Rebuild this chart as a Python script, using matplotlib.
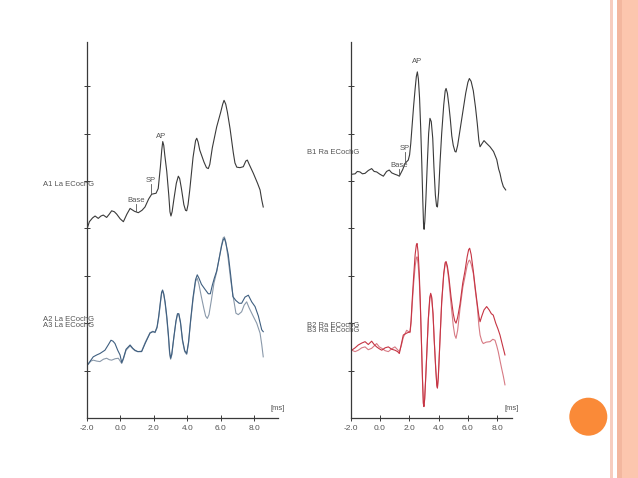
import matplotlib
matplotlib.use("Agg")
import matplotlib.pyplot as plt
from matplotlib.patches import Rectangle, Ellipse

plt.rcParams['font.family'] = ['Liberation Sans', 'DejaVu Sans']

# ---------------- data (time in ms, amplitude in arbitrary units) ----------------
a1_t = [-1.95, -1.84, -1.65, -1.50, -1.31, -1.15, -1.01, -0.81, -0.65, -0.51, -0.35, -0.21, 0.0, 0.19, 0.40,
        0.59, 0.85, 1.08, 1.30, 1.48, 1.70, 1.88, 2.14, 2.27, 2.40, 2.48, 2.54, 2.60, 2.66, 2.78, 2.90,
        2.97, 3.03, 3.10, 3.20, 3.35, 3.47, 3.55, 3.65, 3.80, 3.90, 3.97, 4.05, 4.15, 4.35, 4.50, 4.57,
        4.65, 4.75, 5.00, 5.15, 5.26, 5.35, 5.50, 5.76, 6.00, 6.12, 6.20, 6.30, 6.40, 6.56, 6.75, 6.85,
        6.96, 7.15, 7.35, 7.50, 7.59, 7.70, 7.95, 8.20, 8.35, 8.45, 8.54]
a1_v = [4.02, 4.14, 4.22, 4.26, 4.21, 4.26, 4.28, 4.23, 4.30, 4.37, 4.35, 4.30, 4.20, 4.14, 4.30,
        4.42, 4.36, 4.33, 4.38, 4.45, 4.62, 4.72, 4.74, 4.84, 5.30, 5.65, 5.83, 5.75, 5.55, 5.20, 4.70,
        4.35, 4.26, 4.35, 4.60, 4.95, 5.10, 5.05, 4.85, 4.50, 4.38, 4.37, 4.50, 4.80, 5.50, 5.85, 5.90,
        5.82, 5.65, 5.40, 5.28, 5.26, 5.35, 5.70, 6.14, 6.45, 6.62, 6.70, 6.62, 6.45, 6.10, 5.60, 5.38,
        5.29, 5.28, 5.30, 5.42, 5.44, 5.35, 5.16, 4.95, 4.81, 4.60, 4.45]

a2_t = [-1.95, -1.75, -1.61, -1.40, -1.21, -0.91, -0.70, -0.55, -0.43, -0.31, -0.15, -0.01, 0.09, 0.19,
        0.35, 0.59, 0.75, 0.88, 1.05, 1.28, 1.50, 1.78, 1.95, 2.08, 2.20, 2.30, 2.40, 2.47, 2.53, 2.60,
        2.68, 2.78, 2.88, 2.95, 3.01, 3.08, 3.20, 3.33, 3.42, 3.50, 3.60, 3.72, 3.85, 3.97, 4.08, 4.20,
        4.35, 4.50, 4.60, 4.70, 4.85, 5.05, 5.26, 5.38, 5.50, 5.62, 5.76, 5.90, 6.05, 6.15, 6.22, 6.30,
        6.45, 6.60, 6.73, 6.90, 7.10, 7.25, 7.45, 7.65, 7.85, 8.05, 8.25, 8.45, 8.54]
a2_v = [1.12, 1.22, 1.29, 1.33, 1.36, 1.43, 1.55, 1.64, 1.62, 1.57, 1.43, 1.33, 1.17, 1.26,
        1.45, 1.54, 1.47, 1.43, 1.40, 1.40, 1.58, 1.79, 1.82, 1.81, 1.92, 2.15, 2.45, 2.65, 2.70, 2.62,
        2.45, 2.15, 1.75, 1.40, 1.26, 1.35, 1.70, 2.05, 2.20, 2.20, 2.02, 1.65, 1.42, 1.36, 1.60, 2.05,
        2.55, 2.92, 3.02, 2.95, 2.82, 2.72, 2.62, 2.62, 2.80, 2.95, 3.10, 3.35, 3.62, 3.76, 3.79, 3.70,
        3.45, 3.00, 2.56, 2.48, 2.42, 2.42, 2.55, 2.59, 2.45, 2.35, 2.15, 1.86, 1.82]

a3_t = [-1.95, -1.75, -1.61, -1.40, -1.21, -1.00, -0.81, -0.65, -0.51, -0.30, -0.11, 0.00, 0.09, 0.19,
        0.35, 0.59, 0.75, 0.88, 1.05, 1.28, 1.50, 1.78, 1.95, 2.08, 2.20, 2.30, 2.40, 2.47, 2.53, 2.60,
        2.68, 2.78, 2.88, 2.95, 3.01, 3.08, 3.20, 3.33, 3.42, 3.50, 3.60, 3.72, 3.85, 3.97, 4.08, 4.20,
        4.35, 4.50, 4.60, 4.70, 4.85, 5.00, 5.10, 5.20, 5.30, 5.45, 5.60, 5.76, 5.90, 6.05, 6.15, 6.22,
        6.30, 6.45, 6.60, 6.75, 6.91, 7.05, 7.25, 7.40, 7.55, 7.70, 7.95, 8.15, 8.35, 8.45, 8.54]
a3_v = [1.12, 1.20, 1.22, 1.20, 1.19, 1.24, 1.26, 1.23, 1.22, 1.25, 1.26, 1.20, 1.15, 1.24,
        1.43, 1.52, 1.46, 1.42, 1.40, 1.41, 1.60, 1.80, 1.83, 1.80, 1.90, 2.12, 2.42, 2.62, 2.68, 2.60,
        2.42, 2.10, 1.70, 1.35, 1.24, 1.33, 1.68, 2.03, 2.18, 2.18, 2.00, 1.62, 1.40, 1.34, 1.58, 2.02,
        2.50, 2.88, 2.95, 2.82, 2.55, 2.30, 2.15, 2.10, 2.18, 2.50, 2.85, 3.08, 3.35, 3.65, 3.80, 3.82,
        3.72, 3.35, 2.90, 2.55, 2.21, 2.18, 2.24, 2.38, 2.45, 2.32, 2.14, 2.00, 1.79, 1.55, 1.29]

b1_t = [-1.93, -1.70, -1.55, -1.37, -1.20, -1.02, -0.80, -0.57, -0.40, -0.23, 0.00, 0.23, 0.45, 0.63,
        0.80, 1.02, 1.20, 1.32, 1.45, 1.55, 1.71, 1.93, 2.02, 2.10, 2.20, 2.30, 2.40, 2.48, 2.55, 2.62,
        2.70, 2.78, 2.85, 2.92, 2.97, 3.01, 3.06, 3.13, 3.22, 3.32, 3.41, 3.50, 3.60, 3.68, 3.78, 3.86,
        3.92, 4.00, 4.10, 4.21, 4.35, 4.45, 4.51, 4.60, 4.70, 4.80, 4.90, 5.00, 5.12, 5.19, 5.30, 5.45,
        5.65, 5.85, 6.00, 6.10, 6.22, 6.37, 6.52, 6.64, 6.75, 6.83, 6.95, 7.10, 7.25, 7.51, 7.75, 7.97,
        8.10, 8.19, 8.30, 8.42, 8.58]
b1_v = [5.14, 5.15, 5.20, 5.19, 5.15, 5.16, 5.22, 5.26, 5.20, 5.19, 5.14, 5.10, 5.20, 5.23,
        5.17, 5.14, 5.12, 5.10, 5.18, 5.24, 5.37, 5.44, 5.55, 5.79, 6.20, 6.60, 6.95, 7.20, 7.30, 7.15,
        6.75, 6.10, 5.40, 4.60, 4.10, 3.98, 4.15, 4.60, 5.30, 6.00, 6.32, 6.25, 5.90, 5.30, 4.70, 4.47,
        4.45, 4.75, 5.40, 6.00, 6.60, 6.90, 6.95, 6.85, 6.60, 6.30, 5.95, 5.75, 5.62, 5.61, 5.75, 6.05,
        6.45, 6.85, 7.08, 7.16, 7.10, 6.90, 6.55, 6.21, 5.85, 5.72, 5.78, 5.85, 5.80, 5.72, 5.62, 5.45,
        5.25, 5.16, 5.00, 4.88, 4.81]

b2_t = [-1.93, -1.70, -1.48, -1.25, -1.02, -0.80, -0.57, -0.40, -0.23, -0.05, 0.12, 0.35, 0.57, 0.80,
        1.02, 1.20, 1.32, 1.45, 1.59, 1.82, 2.05, 2.12, 2.20, 2.30, 2.40, 2.48, 2.53, 2.60, 2.68, 2.75,
        2.82, 2.90, 2.96, 3.00, 3.05, 3.12, 3.20, 3.30, 3.40, 3.46, 3.53, 3.62, 3.70, 3.80, 3.88, 3.92,
        3.98, 4.08, 4.21, 4.35, 4.45, 4.51, 4.60, 4.70, 4.85, 5.00, 5.10, 5.19, 5.30, 5.46, 5.65, 5.80,
        5.95, 6.05, 6.12, 6.22, 6.37, 6.50, 6.64, 6.75, 6.83, 6.95, 7.10, 7.28, 7.45, 7.60, 7.73, 7.90,
        8.05, 8.19, 8.35, 8.53]
b2_v = [1.43, 1.48, 1.54, 1.58, 1.61, 1.55, 1.62, 1.55, 1.50, 1.46, 1.43, 1.48, 1.50, 1.45,
        1.43, 1.40, 1.36, 1.55, 1.75, 1.79, 1.82, 2.05, 2.50, 3.00, 3.45, 3.65, 3.68, 3.50, 3.05, 2.45,
        1.70, 0.80, 0.30, 0.24, 0.40, 0.85, 1.40, 2.10, 2.55, 2.63, 2.55, 2.20, 1.65, 1.05, 0.68, 0.63,
        0.85, 1.55, 2.45, 3.05, 3.28, 3.30, 3.20, 2.98, 2.55, 2.20, 2.05, 2.00, 2.12, 2.40, 2.85, 3.10,
        3.40, 3.55, 3.58, 3.45, 3.10, 2.75, 2.40, 2.15, 2.03, 2.15, 2.28, 2.35, 2.28, 2.20, 2.17, 2.00,
        1.88, 1.75, 1.55, 1.33]

b3_t = [-1.93, -1.70, -1.48, -1.25, -1.02, -0.80, -0.57, -0.40, -0.23, -0.05, 0.12, 0.35, 0.57, 0.80,
        1.02, 1.20, 1.32, 1.45, 1.59, 1.82, 2.05, 2.12, 2.20, 2.30, 2.40, 2.48, 2.53, 2.60, 2.68, 2.75,
        2.82, 2.90, 2.96, 3.00, 3.05, 3.12, 3.20, 3.30, 3.40, 3.46, 3.53, 3.62, 3.70, 3.80, 3.88, 3.92,
        3.98, 4.08, 4.21, 4.35, 4.45, 4.51, 4.60, 4.70, 4.85, 5.00, 5.10, 5.19, 5.30, 5.46, 5.65, 5.80,
        5.95, 6.05, 6.12, 6.22, 6.37, 6.50, 6.64, 6.75, 6.83, 6.95, 7.05, 7.25, 7.51, 7.70, 7.85, 7.97,
        8.07, 8.20, 8.30, 8.42, 8.53]
b3_v = [1.43, 1.40, 1.43, 1.48, 1.50, 1.44, 1.47, 1.52, 1.57, 1.50, 1.47, 1.42, 1.40, 1.46,
        1.50, 1.44, 1.40, 1.52, 1.70, 1.85, 1.80, 2.00, 2.40, 2.85, 3.20, 3.38, 3.40, 3.25, 2.90, 2.40,
        1.70, 0.85, 0.32, 0.26, 0.42, 0.85, 1.40, 2.08, 2.50, 2.60, 2.52, 2.18, 1.65, 1.08, 0.70, 0.65,
        0.88, 1.55, 2.42, 3.02, 3.25, 3.28, 3.15, 2.90, 2.40, 1.95, 1.75, 1.68, 1.85, 2.30, 2.75, 2.98,
        3.22, 3.31, 3.33, 3.25, 3.05, 2.70, 2.35, 1.95, 1.75, 1.62, 1.57, 1.60, 1.61, 1.66, 1.64, 1.52,
        1.40, 1.20, 1.05, 0.88, 0.70]

x_ticks = [-2, 0, 2, 4, 6, 8]
x_labels = ["-2.0", "0.0", "2.0", "4.0", "6.0", "8.0"]
y_ticks = [1, 2, 3, 4, 5, 6, 7]

# ---------------- figure ----------------
W, H = 638, 478
fig = plt.figure(figsize=(W / 100, H / 100), dpi=100)
fig.patch.set_facecolor('white')

def px_axes(left, bottom_px, width, height):
    return fig.add_axes([left / W, (H - bottom_px) / H, width / W, height / H])

axL = px_axes(86.7, 418, 11.4 * 16.75, 376)
axR = px_axes(350.7, 418, 11.0 * 14.65, 376)
axL.set_xlim(-2, 9.4)
axR.set_xlim(-2, 9.0)

txt_col = '#555555'
for ax in (axL, axR):
    ax.set_ylim(0, 7.93)
    ax.set_facecolor('none')
    for s in ('top', 'right'):
        ax.spines[s].set_visible(False)
    for s in ('left', 'bottom'):
        ax.spines[s].set_color('#3a3a3a')
        ax.spines[s].set_linewidth(0.9)
    ax.set_xticks(x_ticks)
    ax.set_xticklabels(x_labels)
    ax.set_yticks(y_ticks)
    ax.set_yticklabels([])
    ax.tick_params(axis='both', direction='inout', length=4, width=0.7, colors='#3a3a3a',
                   labelsize=6, labelcolor=txt_col, pad=3)
    ax.text(1.0, 0.17 / 7.93 + 0.005, '[ms]', transform=ax.transAxes, ha='center', va='center',
            fontsize=5.5, color=txt_col)

lw = 0.8
axL.plot(a1_t, a1_v, color='#3a3a3a', lw=lw)
axL.plot(a3_t, a3_v, color='#8a99aa', lw=lw)
axL.plot(a2_t, a2_v, color='#3f5f80', lw=lw)

axR.plot(b1_t, b1_v, color='#3a3a3a', lw=lw)
axR.plot(b3_t, b3_v, color='#d77a84', lw=lw)
axR.plot(b2_t, b2_v, color='#c63443', lw=lw)

fs = 5.5
# trace names
axL.text(-4.61, 4.93, 'A1 La ECochG', fontsize=fs, color=txt_col, ha='left', va='center', clip_on=False)
axL.text(-4.61, 2.08, 'A2 La ECochG', fontsize=fs, color=txt_col, ha='left', va='center', clip_on=False)
axL.text(-4.61, 1.95, 'A3 La ECochG', fontsize=fs, color=txt_col, ha='left', va='center', clip_on=False)
axR.text(-5.0, 5.59, 'B1 Ra ECochG', fontsize=fs, color=txt_col, ha='left', va='center', clip_on=False)
axR.text(-5.0, 1.96, 'B2 Ra ECochG', fontsize=fs, color=txt_col, ha='left', va='center', clip_on=False)
axR.text(-5.0, 1.84, 'B3 Ra ECochG', fontsize=fs, color=txt_col, ha='left', va='center', clip_on=False)

# peak markers
def mark(ax, label, x, y_text, y_line0, y_line1):
    ax.text(x, y_text, label, fontsize=fs, color=txt_col, ha='center', va='bottom')
    ax.plot([x, x], [y_line0, y_line1], color='#555555', lw=0.6)

mark(axL, 'AP', 2.45, 5.86, 5.85, 5.85)
mark(axL, 'SP', 1.84, 4.94, 4.74, 4.94)
mark(axL, 'Base', 0.95, 4.52, 4.36, 4.52)
mark(axR, 'AP', 2.55, 7.45, 7.45, 7.45)
mark(axR, 'SP', 1.71, 5.62, 5.40, 5.62)
mark(axR, 'Base', 1.30, 5.25, 5.12, 5.25)

# slide decoration (right border stripes + orange dot)
def rect_px(x0, x1, color):
    fig.patches.append(Rectangle((x0 / W, 0), (x1 - x0) / W, 1, transform=fig.transFigure,
                                 facecolor=color, edgecolor='none', zorder=0))

rect_px(610, 612.5, '#f7cdbf')
rect_px(616.5, 621.5, '#f3b79f')
rect_px(621.5, 638, '#fcc6ae')
fig.patches.append(Ellipse((588.3 / W, (H - 416.7) / H), 38 / W, 38 / H, transform=fig.transFigure,
                           facecolor='#fa8a38', edgecolor='none', zorder=1))

fig.savefig('out.png', dpi=100)
